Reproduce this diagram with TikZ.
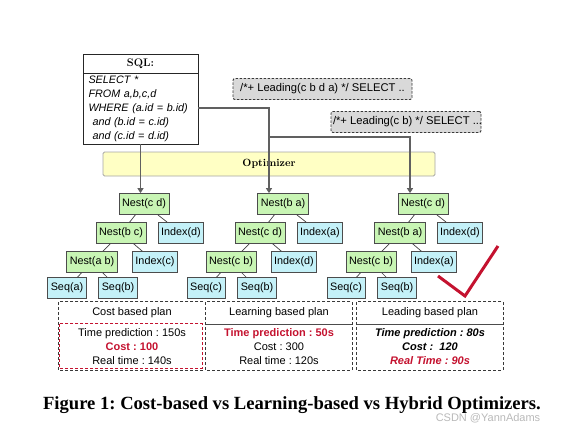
\documentclass[tikz,border=0pt]{standalone}
\usepackage{fontspec}
\newfontfamily\hel{Liberation Sans}
\newfontfamily\capserif{Liberation Serif}
\usetikzlibrary{arrows.meta,calc}
\frenchspacing
\definecolor{nestgreen}{HTML}{C8F5B4}
\definecolor{leafcyan}{HTML}{C4F1F8}
\definecolor{optyellow}{HTML}{FFFFC4}
\definecolor{hintgray}{HTML}{D9D9D9}
\definecolor{hitred}{HTML}{C4122F}
\tikzset{
  plan/.style={draw=gray!60!black,line width=0.7pt,font=\hel\fontsize{10.8}{12}\selectfont,inner xsep=3pt,minimum height=21pt},
  nest/.style={plan,fill=nestgreen},
  leaf/.style={plan,fill=leafcyan},
  edge/.style={draw=black!75,line width=0.7pt},
  flow/.style={draw=gray!75!black,line width=1.6pt,-{Triangle[width=6pt,length=5pt]}},
  hint/.style={draw=gray!45!black,dash pattern=on 2.5pt off 1.5pt,fill=hintgray,rounded corners=2pt,line width=0.9pt,font=\hel\fontsize{11.2}{12}\selectfont,minimum height=21pt,inner xsep=2pt},
  pframe/.style={draw=gray!45!black,dash pattern=on 3pt off 2pt,line width=0.8pt},
  phead/.style={minimum width=146pt,minimum height=22pt,font=\hel\fontsize{11}{12}\selectfont},
  pbody/.style={minimum width=146pt,minimum height=46pt,align=center,font=\hel\fontsize{11}{14}\selectfont}
}
\begin{document}
\begin{tikzpicture}[x=1pt,y=-1pt]
\useasboundingbox (0,0) rectangle (578,432);
% query and hints
\node[draw=gray!30!black,line width=0.8pt,minimum width=115pt,minimum height=19pt,font=\bfseries\fontsize{11}{12}\selectfont] (sqlhead) at (140.5,63.5) {SQL:};
\node[draw=gray!30!black,line width=0.8pt,minimum width=115pt,minimum height=71pt,text width=104pt,inner xsep=5.5pt,inner ysep=2pt,align=left,font=\hel\itshape\fontsize{10.8}{14}\selectfont] (sqlbody) at (140.5,108.5)
  {SELECT *\\FROM a,b,c,d\\WHERE (a.id = b.id)\\\hspace*{4pt}and (b.id = c.id)\\\hspace*{4pt}and (c.id = d.id)};
\node[hint,minimum width=179pt] (hint1) at (322.5,89) {/*+ Leading(c b d a) */ SELECT ..};
\node[hint,minimum width=150pt] (hint2) at (406,122) {/*+ Leading(c b) */ SELECT ..\rlap{.}};
\node[draw=gray!70,fill=optyellow,rounded corners=1.5pt,line width=0.8pt,minimum width=332pt,minimum height=24pt,font=\bfseries\fontsize{10.5}{12}\selectfont] (opt) at (269,164) {Optimizer};
% the three plans
\foreach \t/\x/\ra/\rb/\rc/\ia/\ib/\sa/\sb in {1/144/c d/b c/a b/d/c/a/b,2/283/b a/c d/c b/a/d/c/b,3/423/c d/b a/c b/d/a/c/b}{
  \node[nest] (r\t) at (\x,204) {Nest(\ra)};
  \node[nest] (m\t) at (\x-23,233) {Nest(\rb)};
  \node[leaf] (ia\t) at (\x+37,233) {Index(\ia)};
  \node[nest] (l\t) at (\x-52,262) {Nest(\rc)};
  \node[leaf] (ib\t) at (\x+11,262) {Index(\ib)};
  \node[leaf] (sa\t) at (\x-77,288) {Seq(\sa)};
  \node[leaf] (sb\t) at (\x-26,288) {Seq(\sb)};
  \draw[edge] (r\t) -- (m\t) (r\t) -- (ia\t) (m\t) -- (l\t) (m\t) -- (ib\t) (l\t) -- (sa\t) (l\t) -- (sb\t);}
\coordinate (k1) at (269,108);
\coordinate (k2) at (269,137);
\coordinate (k3) at (410,137);
\draw[flow] (sqlbody.south) -- (sqlbody.south |- r1.north);
\draw[flow] (sqlbody.east |- k1) -- (k1) -- (k1 |- r2.north);
\draw[flow] (k2) -- (k3) -- (k3 |- r3.north);
% results
\node[phead] (ph1) at (132,313) {Cost based plan};
\node[pbody] (pb1) at (132,347) {Time prediction : 150s\\\textcolor{hitred}{\bfseries Cost : 100}\\Real time : 140s};
\node[phead] (ph2) at (279,313) {Learning based plan};
\node[pbody] (pb2) at (279,347) {\textcolor{hitred}{\bfseries Time prediction : 50s}\\Cost : 300\\Real time : 120s};
\node[phead] (ph3) at (430,313) {Leading based plan};
\node[pbody,font=\hel\bfseries\itshape\fontsize{11}{14}\selectfont] (pb3) at (430,347) {Time prediction : 80s\\Cost :\ \ 120\\\textcolor{hitred}{Real Time : 90s}};
\foreach \i in {1,2,3}{\draw[pframe] (ph\i.north west) rectangle (pb\i.south east);}
\draw[draw=gray!60!black,line width=0.8pt] (ph2.south west) -- (ph2.south east) (ph3.south west) -- (ph3.south east);
\draw[draw=hitred,dash pattern=on 3pt off 2pt,line width=0.8pt] ($(pb1.north west)+(1,0)$) rectangle ($(pb1.south east)+(-3,-2)$);
\draw[hitred,line width=3pt] (438,276) -- (465,296) -- (498,246);
\node[font=\capserif\bfseries\fontsize{18.6}{20}\selectfont] (caption) at (292,405) {Figure 1: Cost-based vs Learning-based vs Hybrid Optimizers.};
\node[font=\hel\fontsize{11}{12}\selectfont,text=gray!55] (mark) at (488,418) {CSDN @YannAdams};
\end{tikzpicture}
\end{document}
